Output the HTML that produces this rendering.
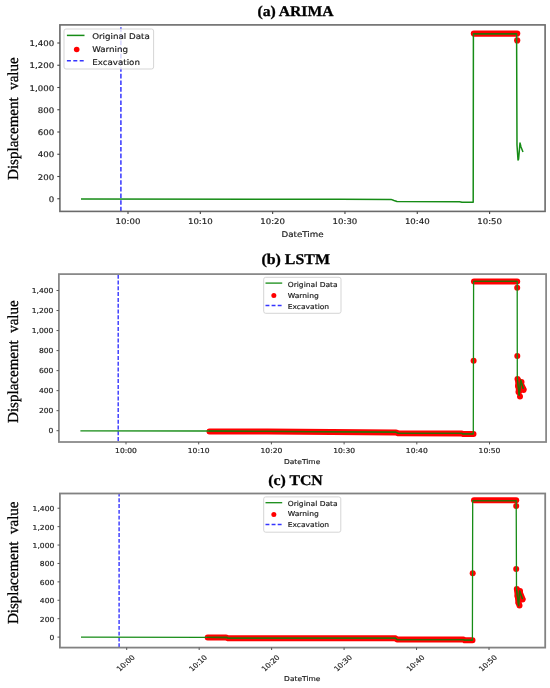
<!DOCTYPE html>
<html><head><meta charset="utf-8"><title>Displacement value</title>
<style>html,body{margin:0;padding:0;background:#fff;}svg{display:block;}
text{text-rendering:geometricPrecision;}
text.s{font-family:"DejaVu Sans","Liberation Sans",sans-serif;stroke:#222;stroke-width:0.2;}
text.yl{white-space:pre;stroke:#000;stroke-width:0.3;}
text.t{stroke:#000;stroke-width:0.3;}
text.r{font-family:"Liberation Serif","DejaVu Serif",serif;}</style></head>
<body><svg width="550" height="688" viewBox="0 0 550 688">
<rect width="550" height="688" fill="#fff"/>
<text x="295.5" y="16.3" class="r t" font-weight="bold" font-size="14.8" text-anchor="middle" textLength="76" lengthAdjust="spacingAndGlyphs" fill="#000">(a) ARIMA</text>
<text transform="translate(18.2,118.6) scale(1,0.982) rotate(-90)" class="r yl" font-size="15.3" text-anchor="middle" fill="#000">Displacement  value</text>
<line x1="120.9" y1="211.4" x2="120.9" y2="24.9" stroke="#3535ff" stroke-width="1.5" stroke-dasharray="4.6 2.05" stroke-dashoffset="0"/>
<polyline points="473.9,33.6 517.2,33.6" fill="none" stroke="#ff0000" stroke-width="6.2" stroke-linecap="round" stroke-linejoin="round"/>
<circle cx="517.2" cy="40.4" r="3.1" fill="#ff0000"/>
<polyline points="81,199 340,199.3 391,199.4 394,200.5 397,201.5 459.6,201.8 462,202.3 473.2,202.3 473.4,33.8 516.6,33.8 517,145 518,160 518.6,159 520,143 521,147 523,152" fill="none" stroke="#168c16" stroke-width="1.5" stroke-linejoin="round"/>
<polyline points="473.4,33.8 516.6,33.8" fill="none" stroke="#2e6a00" stroke-width="1.5" stroke-linejoin="round"/>
<rect x="59.9" y="24.9" width="485.2" height="186.5" fill="none" stroke="#6a6a6a" stroke-width="1.6"/>
<line x1="57.3" y1="198.75" x2="59.9" y2="198.75" stroke="#444" stroke-width="1.1"/>
<text transform="translate(54.1,201.84) scale(1,0.9)" class="s" font-size="8.6" text-anchor="end" fill="#222">0</text>
<line x1="57.3" y1="176.5" x2="59.9" y2="176.5" stroke="#444" stroke-width="1.1"/>
<text transform="translate(54.1,179.59) scale(1,0.9)" class="s" font-size="8.6" text-anchor="end" fill="#222">200</text>
<line x1="57.3" y1="154.25" x2="59.9" y2="154.25" stroke="#444" stroke-width="1.1"/>
<text transform="translate(54.1,157.34) scale(1,0.9)" class="s" font-size="8.6" text-anchor="end" fill="#222">400</text>
<line x1="57.3" y1="132" x2="59.9" y2="132" stroke="#444" stroke-width="1.1"/>
<text transform="translate(54.1,135.09) scale(1,0.9)" class="s" font-size="8.6" text-anchor="end" fill="#222">600</text>
<line x1="57.3" y1="109.75" x2="59.9" y2="109.75" stroke="#444" stroke-width="1.1"/>
<text transform="translate(54.1,112.84) scale(1,0.9)" class="s" font-size="8.6" text-anchor="end" fill="#222">800</text>
<line x1="57.3" y1="87.5" x2="59.9" y2="87.5" stroke="#444" stroke-width="1.1"/>
<text transform="translate(54.1,90.59) scale(1,0.9)" class="s" font-size="8.6" text-anchor="end" fill="#222">1,000</text>
<line x1="57.3" y1="65.25" x2="59.9" y2="65.25" stroke="#444" stroke-width="1.1"/>
<text transform="translate(54.1,68.34) scale(1,0.9)" class="s" font-size="8.6" text-anchor="end" fill="#222">1,200</text>
<line x1="57.3" y1="43" x2="59.9" y2="43" stroke="#444" stroke-width="1.1"/>
<text transform="translate(54.1,46.09) scale(1,0.9)" class="s" font-size="8.6" text-anchor="end" fill="#222">1,400</text>
<line x1="128" y1="211.4" x2="128" y2="214" stroke="#444" stroke-width="1.1"/>
<text transform="translate(128,224.2) scale(1,0.9)" class="s" font-size="8.6" text-anchor="middle" fill="#222">10:00</text>
<line x1="200.32" y1="211.4" x2="200.32" y2="214" stroke="#444" stroke-width="1.1"/>
<text transform="translate(200.32,224.2) scale(1,0.9)" class="s" font-size="8.6" text-anchor="middle" fill="#222">10:10</text>
<line x1="272.64" y1="211.4" x2="272.64" y2="214" stroke="#444" stroke-width="1.1"/>
<text transform="translate(272.64,224.2) scale(1,0.9)" class="s" font-size="8.6" text-anchor="middle" fill="#222">10:20</text>
<line x1="344.96" y1="211.4" x2="344.96" y2="214" stroke="#444" stroke-width="1.1"/>
<text transform="translate(344.96,224.2) scale(1,0.9)" class="s" font-size="8.6" text-anchor="middle" fill="#222">10:30</text>
<line x1="417.28" y1="211.4" x2="417.28" y2="214" stroke="#444" stroke-width="1.1"/>
<text transform="translate(417.28,224.2) scale(1,0.9)" class="s" font-size="8.6" text-anchor="middle" fill="#222">10:40</text>
<line x1="489.6" y1="211.4" x2="489.6" y2="214" stroke="#444" stroke-width="1.1"/>
<text transform="translate(489.6,224.2) scale(1,0.9)" class="s" font-size="8.6" text-anchor="middle" fill="#222">10:50</text>
<text transform="translate(302.5,236.8) scale(1,0.9)" class="s" font-size="8.7" text-anchor="middle" fill="#222">DateTime</text>
<rect x="64" y="29" width="89.6" height="40" rx="2" fill="#fff" fill-opacity="0.8" stroke="#d0d0d0" stroke-width="0.9"/>
<line x1="66.9" y1="35.4" x2="84.5" y2="35.4" stroke="#168c16" stroke-width="1.5"/>
<circle cx="76.7" cy="49.5" r="2.8" fill="#ff0000"/>
<line x1="66.9" y1="60.8" x2="84.5" y2="60.8" stroke="#3535ff" stroke-width="1.5" stroke-dasharray="4 2.4"/>
<text transform="translate(92.2,39.4) scale(1,0.9)" class="s" font-size="8.7" fill="#222">Original Data</text>
<text transform="translate(92.2,52.1) scale(1,0.9)" class="s" font-size="8.7" fill="#222">Warning</text>
<text transform="translate(92.2,64.8) scale(1,0.9)" class="s" font-size="8.7" fill="#222">Excavation</text>
<text x="295.7" y="263.6" class="r t" font-weight="bold" font-size="14.8" text-anchor="middle" textLength="68.5" lengthAdjust="spacingAndGlyphs" fill="#000">(b) LSTM</text>
<text transform="translate(18.2,361.6) scale(1,0.982) rotate(-90)" class="r yl" font-size="15.3" text-anchor="middle" fill="#000">Displacement  value</text>
<line x1="118.2" y1="442" x2="118.2" y2="274.1" stroke="#3535ff" stroke-width="1.4" stroke-dasharray="4 1.8" stroke-dashoffset="4.9"/>
<polyline points="209.5,431.5 267,431.6 396,432.4 398,433.3 461.8,433.4 463,433.9 473.5,433.9" fill="none" stroke="#ff0000" stroke-width="6.0" stroke-linecap="round" stroke-linejoin="round"/>
<polyline points="474,281.5 517.2,281.5" fill="none" stroke="#ff0000" stroke-width="6.0" stroke-linecap="round" stroke-linejoin="round"/>
<polyline points="518,380 519,392 520.5,383 523.5,389" fill="none" stroke="#ff0000" stroke-width="6.0" stroke-linecap="round" stroke-linejoin="round"/>
<circle cx="517.2" cy="287.7" r="3.0" fill="#ff0000"/>
<circle cx="473.6" cy="360.8" r="3.0" fill="#ff0000"/>
<circle cx="517.3" cy="355.9" r="3.0" fill="#ff0000"/>
<circle cx="517.5" cy="379" r="3.0" fill="#ff0000"/>
<circle cx="518" cy="386" r="3.0" fill="#ff0000"/>
<circle cx="518.5" cy="392" r="3.0" fill="#ff0000"/>
<circle cx="520" cy="396.5" r="3.0" fill="#ff0000"/>
<circle cx="521.5" cy="382" r="3.0" fill="#ff0000"/>
<circle cx="523.5" cy="390" r="3.0" fill="#ff0000"/>
<polyline points="80.4,430.9 209,431 267,431.4 396,432.2 398,433.3 461.8,433.3 463,433.8 473.3,433.8 473.6,281.4 517.2,281.4 517.3,377 519.2,395.2 520.7,380.1 523.3,388.8" fill="none" stroke="#168c16" stroke-width="1.3" stroke-linejoin="round"/>
<polyline points="209,431 267,431.4 396,432.2 398,433.3 461.8,433.3 463,433.8 473.3,433.8" fill="none" stroke="#2e6a00" stroke-width="1.3" stroke-linejoin="round"/>
<polyline points="473.6,281.4 517.2,281.4" fill="none" stroke="#2e6a00" stroke-width="1.3" stroke-linejoin="round"/>
<polyline points="517.3,380 519.2,395.2 520.7,380.1 523.3,388.8" fill="none" stroke="#2e6a00" stroke-width="1.3" stroke-linejoin="round"/>
<rect x="58.9" y="274.1" width="487.2" height="167.9" fill="none" stroke="#878787" stroke-width="1.75"/>
<line x1="56.5" y1="430.7" x2="58.9" y2="430.7" stroke="#555" stroke-width="1.0"/>
<text transform="translate(53.4,433.46) scale(1,0.9)" class="s" font-size="7.6" text-anchor="end" fill="#222">0</text>
<line x1="56.5" y1="410.67" x2="58.9" y2="410.67" stroke="#555" stroke-width="1.0"/>
<text transform="translate(53.4,413.43) scale(1,0.9)" class="s" font-size="7.6" text-anchor="end" fill="#222">200</text>
<line x1="56.5" y1="390.64" x2="58.9" y2="390.64" stroke="#555" stroke-width="1.0"/>
<text transform="translate(53.4,393.4) scale(1,0.9)" class="s" font-size="7.6" text-anchor="end" fill="#222">400</text>
<line x1="56.5" y1="370.61" x2="58.9" y2="370.61" stroke="#555" stroke-width="1.0"/>
<text transform="translate(53.4,373.37) scale(1,0.9)" class="s" font-size="7.6" text-anchor="end" fill="#222">600</text>
<line x1="56.5" y1="350.58" x2="58.9" y2="350.58" stroke="#555" stroke-width="1.0"/>
<text transform="translate(53.4,353.34) scale(1,0.9)" class="s" font-size="7.6" text-anchor="end" fill="#222">800</text>
<line x1="56.5" y1="330.55" x2="58.9" y2="330.55" stroke="#555" stroke-width="1.0"/>
<text transform="translate(53.4,333.31) scale(1,0.9)" class="s" font-size="7.6" text-anchor="end" fill="#222">1,000</text>
<line x1="56.5" y1="310.52" x2="58.9" y2="310.52" stroke="#555" stroke-width="1.0"/>
<text transform="translate(53.4,313.28) scale(1,0.9)" class="s" font-size="7.6" text-anchor="end" fill="#222">1,200</text>
<line x1="56.5" y1="290.49" x2="58.9" y2="290.49" stroke="#555" stroke-width="1.0"/>
<text transform="translate(53.4,293.25) scale(1,0.9)" class="s" font-size="7.6" text-anchor="end" fill="#222">1,400</text>
<line x1="126" y1="442" x2="126" y2="444.4" stroke="#555" stroke-width="1.0"/>
<text transform="translate(126,453.2) scale(1,0.9)" class="s" font-size="7.6" text-anchor="middle" fill="#222">10:00</text>
<line x1="198.7" y1="442" x2="198.7" y2="444.4" stroke="#555" stroke-width="1.0"/>
<text transform="translate(198.7,453.2) scale(1,0.9)" class="s" font-size="7.6" text-anchor="middle" fill="#222">10:10</text>
<line x1="271.4" y1="442" x2="271.4" y2="444.4" stroke="#555" stroke-width="1.0"/>
<text transform="translate(271.4,453.2) scale(1,0.9)" class="s" font-size="7.6" text-anchor="middle" fill="#222">10:20</text>
<line x1="344.1" y1="442" x2="344.1" y2="444.4" stroke="#555" stroke-width="1.0"/>
<text transform="translate(344.1,453.2) scale(1,0.9)" class="s" font-size="7.6" text-anchor="middle" fill="#222">10:30</text>
<line x1="416.8" y1="442" x2="416.8" y2="444.4" stroke="#555" stroke-width="1.0"/>
<text transform="translate(416.8,453.2) scale(1,0.9)" class="s" font-size="7.6" text-anchor="middle" fill="#222">10:40</text>
<line x1="489.5" y1="442" x2="489.5" y2="444.4" stroke="#555" stroke-width="1.0"/>
<text transform="translate(489.5,453.2) scale(1,0.9)" class="s" font-size="7.6" text-anchor="middle" fill="#222">10:50</text>
<text transform="translate(302.1,463.7) scale(1,0.9)" class="s" font-size="7.5" text-anchor="middle" fill="#222">DateTime</text>
<rect x="263.7" y="277.3" width="77.3" height="36" rx="2" fill="#fff" fill-opacity="0.8" stroke="#d0d0d0" stroke-width="0.9"/>
<line x1="265.5" y1="283.1" x2="282.2" y2="283.1" stroke="#168c16" stroke-width="1.3"/>
<circle cx="273.85" cy="295.5" r="2.5" fill="#ff0000"/>
<line x1="265.5" y1="305.5" x2="282.2" y2="305.5" stroke="#3535ff" stroke-width="1.3" stroke-dasharray="3.9 2.2"/>
<text transform="translate(287.7,286.6) scale(1,0.9)" class="s" font-size="7.55" fill="#222">Original Data</text>
<text transform="translate(287.7,297.5) scale(1,0.9)" class="s" font-size="7.55" fill="#222">Warning</text>
<text transform="translate(287.7,308.5) scale(1,0.9)" class="s" font-size="7.55" fill="#222">Excavation</text>
<text x="295.5" y="484.6" class="r t" font-weight="bold" font-size="14.8" text-anchor="middle" textLength="54.5" lengthAdjust="spacingAndGlyphs" fill="#000">(c) TCN</text>
<text transform="translate(18.2,562.8) scale(1,0.982) rotate(-90)" class="r yl" font-size="15.3" text-anchor="middle" fill="#000">Displacement  value</text>
<line x1="119.1" y1="647.6" x2="119.1" y2="493.5" stroke="#3535ff" stroke-width="1.4" stroke-dasharray="3.9 1.9" stroke-dashoffset="5.4"/>
<polyline points="207.7,637.4 226,637.4 228,638.3 395.5,638.3 397,639.5 463.6,639.6 464.5,640.2 472.5,640.2" fill="none" stroke="#ff0000" stroke-width="6.0" stroke-linecap="round" stroke-linejoin="round"/>
<polyline points="474,500.3 516.2,500.3" fill="none" stroke="#ff0000" stroke-width="6.0" stroke-linecap="round" stroke-linejoin="round"/>
<polyline points="517,590 518.5,603 519.6,592 522.5,599" fill="none" stroke="#ff0000" stroke-width="6.0" stroke-linecap="round" stroke-linejoin="round"/>
<circle cx="516.2" cy="505.9" r="3.0" fill="#ff0000"/>
<circle cx="472.7" cy="573.2" r="3.0" fill="#ff0000"/>
<circle cx="516.2" cy="569" r="3.0" fill="#ff0000"/>
<circle cx="516.8" cy="589" r="3.0" fill="#ff0000"/>
<circle cx="517.5" cy="596" r="3.0" fill="#ff0000"/>
<circle cx="518.5" cy="603" r="3.0" fill="#ff0000"/>
<circle cx="519.5" cy="605.5" r="3.0" fill="#ff0000"/>
<circle cx="520" cy="591" r="3.0" fill="#ff0000"/>
<circle cx="522.5" cy="599.5" r="3.0" fill="#ff0000"/>
<polyline points="81,637.2 207,637.3 227.3,637.5 228,638.2 395.5,638.2 397,639.5 463.6,639.6 464.5,640.2 472.4,640.2 472.7,500.6 516.2,500.6 516.5,588 518.6,605.6 519.6,590.9 522.5,599.1" fill="none" stroke="#168c16" stroke-width="1.3" stroke-linejoin="round"/>
<polyline points="207,637.3 227.3,637.5 228,638.2 395.5,638.2 397,639.5 463.6,639.6 464.5,640.2 472.4,640.2" fill="none" stroke="#2e6a00" stroke-width="1.3" stroke-linejoin="round"/>
<polyline points="472.7,500.6 516.2,500.6" fill="none" stroke="#2e6a00" stroke-width="1.3" stroke-linejoin="round"/>
<polyline points="516.5,590 518.6,605.6 519.6,590.9 522.5,599.1" fill="none" stroke="#2e6a00" stroke-width="1.3" stroke-linejoin="round"/>
<rect x="59.9" y="493.5" width="485.3" height="154.1" fill="none" stroke="#828282" stroke-width="1.8"/>
<line x1="57.5" y1="637.1" x2="59.9" y2="637.1" stroke="#555" stroke-width="1.0"/>
<text transform="translate(54.3,639.96) scale(1,0.9)" class="s" font-size="7.6" text-anchor="end" fill="#222">0</text>
<line x1="57.5" y1="618.69" x2="59.9" y2="618.69" stroke="#555" stroke-width="1.0"/>
<text transform="translate(54.3,621.55) scale(1,0.9)" class="s" font-size="7.6" text-anchor="end" fill="#222">200</text>
<line x1="57.5" y1="600.28" x2="59.9" y2="600.28" stroke="#555" stroke-width="1.0"/>
<text transform="translate(54.3,603.14) scale(1,0.9)" class="s" font-size="7.6" text-anchor="end" fill="#222">400</text>
<line x1="57.5" y1="581.87" x2="59.9" y2="581.87" stroke="#555" stroke-width="1.0"/>
<text transform="translate(54.3,584.73) scale(1,0.9)" class="s" font-size="7.6" text-anchor="end" fill="#222">600</text>
<line x1="57.5" y1="563.46" x2="59.9" y2="563.46" stroke="#555" stroke-width="1.0"/>
<text transform="translate(54.3,566.32) scale(1,0.9)" class="s" font-size="7.6" text-anchor="end" fill="#222">800</text>
<line x1="57.5" y1="545.05" x2="59.9" y2="545.05" stroke="#555" stroke-width="1.0"/>
<text transform="translate(54.3,547.91) scale(1,0.9)" class="s" font-size="7.6" text-anchor="end" fill="#222">1,000</text>
<line x1="57.5" y1="526.64" x2="59.9" y2="526.64" stroke="#555" stroke-width="1.0"/>
<text transform="translate(54.3,529.5) scale(1,0.9)" class="s" font-size="7.6" text-anchor="end" fill="#222">1,200</text>
<line x1="57.5" y1="508.23" x2="59.9" y2="508.23" stroke="#555" stroke-width="1.0"/>
<text transform="translate(54.3,511.09) scale(1,0.9)" class="s" font-size="7.6" text-anchor="end" fill="#222">1,400</text>
<line x1="126.7" y1="647.6" x2="126.7" y2="650" stroke="#555" stroke-width="1.0"/>
<text transform="translate(135.3,657.9) scale(1,0.9) rotate(-45)" class="s" font-size="7.6" text-anchor="end" fill="#222">10:00</text>
<line x1="199.16" y1="647.6" x2="199.16" y2="650" stroke="#555" stroke-width="1.0"/>
<text transform="translate(207.76,657.9) scale(1,0.9) rotate(-45)" class="s" font-size="7.6" text-anchor="end" fill="#222">10:10</text>
<line x1="271.62" y1="647.6" x2="271.62" y2="650" stroke="#555" stroke-width="1.0"/>
<text transform="translate(280.22,657.9) scale(1,0.9) rotate(-45)" class="s" font-size="7.6" text-anchor="end" fill="#222">10:20</text>
<line x1="344.08" y1="647.6" x2="344.08" y2="650" stroke="#555" stroke-width="1.0"/>
<text transform="translate(352.68,657.9) scale(1,0.9) rotate(-45)" class="s" font-size="7.6" text-anchor="end" fill="#222">10:30</text>
<line x1="416.54" y1="647.6" x2="416.54" y2="650" stroke="#555" stroke-width="1.0"/>
<text transform="translate(425.14,657.9) scale(1,0.9) rotate(-45)" class="s" font-size="7.6" text-anchor="end" fill="#222">10:40</text>
<line x1="489" y1="647.6" x2="489" y2="650" stroke="#555" stroke-width="1.0"/>
<text transform="translate(497.6,657.9) scale(1,0.9) rotate(-45)" class="s" font-size="7.6" text-anchor="end" fill="#222">10:50</text>
<text transform="translate(302.25,681.4) scale(1,0.9)" class="s" font-size="7.5" text-anchor="middle" fill="#222">DateTime</text>
<rect x="263.7" y="496.9" width="77.1" height="35.3" rx="2" fill="#fff" fill-opacity="0.8" stroke="#d0d0d0" stroke-width="0.9"/>
<line x1="265.5" y1="502.7" x2="282.2" y2="502.7" stroke="#168c16" stroke-width="1.3"/>
<circle cx="273.85" cy="514.4" r="2.5" fill="#ff0000"/>
<line x1="265.5" y1="524.5" x2="282.2" y2="524.5" stroke="#3535ff" stroke-width="1.3" stroke-dasharray="3.9 2.2"/>
<text transform="translate(287.7,505.5) scale(1,0.9)" class="s" font-size="7.55" fill="#222">Original Data</text>
<text transform="translate(287.7,516.4) scale(1,0.9)" class="s" font-size="7.55" fill="#222">Warning</text>
<text transform="translate(287.7,527.3) scale(1,0.9)" class="s" font-size="7.55" fill="#222">Excavation</text>
</svg></body></html>
